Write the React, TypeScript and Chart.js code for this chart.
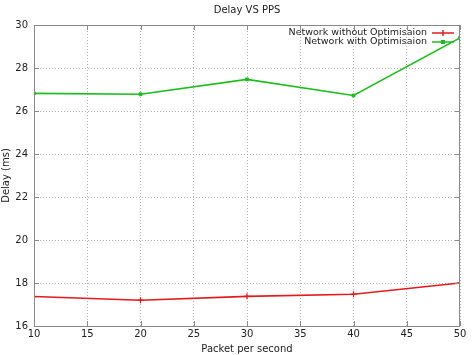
import React, { useEffect, useRef } from "react";
import { Chart, registerables } from "chart.js";

Chart.register(...registerables);

const pps = [10, 20, 30, 40, 50];
const delayWithout = [17.37, 17.2, 17.38, 17.48, 18.0];
const delayWith = [26.82, 26.78, 27.47, 26.72, 29.4];
const seriesNames = ["Network without Optimisaion", "Network with Optimisaion"];
const seriesColors = ["#e41a1c", "#1cbe1c"];
const markerStyles = ["cross", "rect"];
const chartTitle = "Delay VS PPS";
const xTitle = "Packet per second";
const yTitle = "Delay (ms)";

const FONT = "'DejaVu Sans', sans-serif";

const overlayPlugin = {
  id: "overlay",
  afterDraw(chart: any) {
    const ctx = chart.ctx;
    const a = chart.chartArea;
    ctx.save();
    ctx.strokeStyle = "#8a8a8a";
    ctx.lineWidth = 1;
    ctx.setLineDash([]);
    ctx.strokeRect(a.left + 0.5, a.top + 0.5, a.right - a.left - 1, a.bottom - a.top);
    const xs = chart.scales.x;
    const ys = chart.scales.y;
    xs.ticks.forEach((t: any) => {
      const px = Math.round(xs.getPixelForValue(t.value)) + 0.5;
      ctx.beginPath();
      ctx.moveTo(px, a.bottom);
      ctx.lineTo(px, a.bottom - 5);
      ctx.moveTo(px, a.top);
      ctx.lineTo(px, a.top + 5);
      ctx.stroke();
    });
    ys.ticks.forEach((t: any) => {
      const py = Math.round(ys.getPixelForValue(t.value)) + 0.5;
      ctx.beginPath();
      ctx.moveTo(a.left, py);
      ctx.lineTo(a.left + 5, py);
      ctx.moveTo(a.right, py);
      ctx.lineTo(a.right - 5, py);
      ctx.stroke();
    });
    ctx.fillStyle = "#222";
    ctx.font = `10px ${FONT}`;
    ctx.textAlign = "center";
    ctx.textBaseline = "middle";
    ctx.fillText(chartTitle, (a.left + a.right) / 2, 10);
    ctx.font = `9.5px ${FONT}`;
    ctx.textAlign = "right";
    seriesNames.forEach((name, i) => {
      const y = 33 + i * 9;
      ctx.fillStyle = "#222";
      ctx.fillText(name, 427, y);
      ctx.strokeStyle = seriesColors[i];
      ctx.lineWidth = 1.5;
      ctx.beginPath();
      ctx.moveTo(432, y);
      ctx.lineTo(454, y);
      ctx.stroke();
      if (i === 0) {
        ctx.beginPath();
        ctx.moveTo(443, y - 3);
        ctx.lineTo(443, y + 3);
        ctx.stroke();
      } else {
        ctx.fillStyle = seriesColors[i];
        ctx.fillRect(441, y - 2, 4, 4);
      }
    });
    ctx.restore();
  },
};

export default function App() {
  const ref = useRef<HTMLCanvasElement>(null);
  useEffect(() => {
    document.body.style.margin = "0";
    const chart = new Chart(ref.current!, {
      type: "line",
      data: {
        datasets: [0, 1].map((i) => ({
          label: seriesNames[i],
          data: pps.map((x, j) => ({ x, y: (i === 0 ? delayWithout : delayWith)[j] })),
          borderColor: seriesColors[i],
          backgroundColor: seriesColors[i],
          borderWidth: 1.6,
          pointStyle: markerStyles[i] as any,
          pointRadius: i === 0 ? 3 : 2,
          pointBorderWidth: i === 0 ? 1.2 : 1,
          tension: 0,
        })),
      },
      options: {
        animation: false,
        responsive: false,
        maintainAspectRatio: false,
        layout: { padding: { top: 25, right: 14, left: 0, bottom: 0 } },
        plugins: { legend: { display: false }, title: { display: false }, tooltip: { enabled: false } },
        scales: {
          x: {
            type: "linear",
            min: 10,
            max: 50,
            ticks: { stepSize: 5, color: "#222", font: { family: FONT, size: 10 }, padding: 2, maxRotation: 0 },
            grid: { color: "#b0b0b0", drawTicks: false, lineWidth: 1 },
            border: { display: false, dash: [1, 2] },
            title: { display: true, text: xTitle, color: "#222", font: { family: FONT, size: 10 }, padding: { top: 2, bottom: 0 } },
            afterFit: (s: any) => { s.height = 29; },
          },
          y: {
            min: 16,
            max: 30,
            ticks: { stepSize: 2, color: "#222", font: { family: FONT, size: 10 }, padding: 6 },
            grid: { color: "#b0b0b0", drawTicks: false, lineWidth: 1 },
            border: { display: false, dash: [1, 2] },
            title: { display: true, text: yTitle, color: "#222", font: { family: FONT, size: 10 }, padding: { top: 0, bottom: 0 } },
            afterFit: (s: any) => { s.width = 34; },
          },
        },
      },
      plugins: [overlayPlugin],
    });
    return () => chart.destroy();
  }, []);
  return <canvas ref={ref} width={474} height={355} style={{ display: "block" }} />;
}
